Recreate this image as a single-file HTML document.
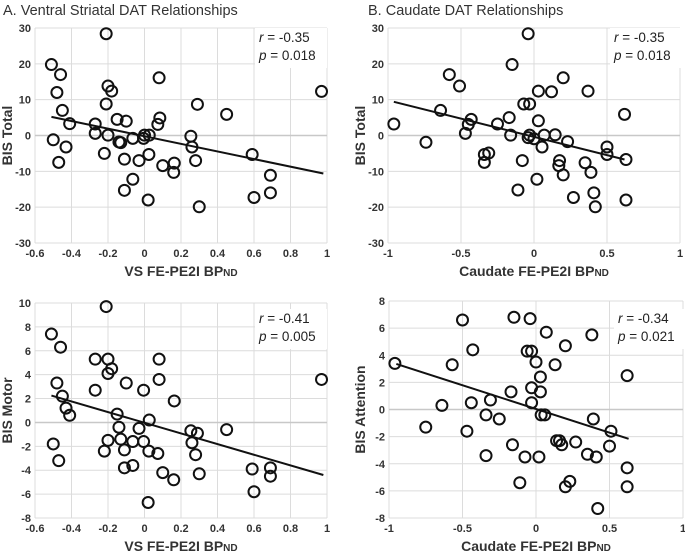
<!DOCTYPE html>
<html><head><meta charset="utf-8">
<style>
html,body{margin:0;padding:0;background:#fff;}
svg{display:block;font-family:"Liberation Sans",sans-serif;}
.tick{font-size:11px;font-weight:bold;fill:#333;}
.title{font-size:14.5px;fill:#333;}
.axt{font-size:14px;font-weight:bold;fill:#333;}
.ann{font-size:13.5px;fill:#222;}
</style></head>
<body>
<svg id="chart" width="685" height="551" viewBox="0 0 685 551">
<text class="title" x="3" y="15">A. Ventral Striatal DAT Relationships</text>
<text class="title" x="368" y="15">B. Caudate DAT Relationships</text>
</svg>
<script>
// Panel A: VS vs BIS Total
const vsX = [-0.51,-0.46,-0.48,-0.45,-0.41,-0.50,-0.43,-0.47,-0.21,-0.20,-0.18,-0.21,-0.27,-0.27,-0.20,-0.22,-0.15,-0.10,-0.14,-0.13,-0.11,-0.11,-0.064,-0.064,-0.03,-0.005,0,0.026,0.024,0.02,0.08,0.084,0.073,0.10,0.163,0.16,0.254,0.26,0.29,0.28,0.30,0.45,0.59,0.60,0.69,0.69,0.97];
const bisTotalA = [19.8,17,12,7,3.3,-1.2,-3.2,-7.5,28.4,13.8,12.4,8.8,3.2,0.6,0.1,-5,4.5,4,-1.8,-2,-6.6,-15.3,-12.2,-0.8,-7,-0.8,0.1,0.1,-5.3,-18,16.1,4.9,3.1,-8.4,-7.7,-10.3,-0.2,-3.2,8.7,-7,-19.9,5.9,-5.3,-17.3,-11.1,-16,12.3];
const lineA = [[-0.51,5.2],[0.98,-10.6]];
// Panel C: VS vs BIS Motor
const vsXC = [-0.51,-0.46,-0.48,-0.45,-0.43,-0.41,-0.50,-0.47,-0.21,-0.27,-0.20,-0.18,-0.20,-0.27,-0.10,-0.15,-0.14,-0.13,-0.20,-0.22,-0.11,-0.11,-0.064,-0.064,-0.03,-0.005,-0.005,0.026,0.024,0.02,0.08,0.08,0.073,0.10,0.163,0.16,0.254,0.26,0.29,0.28,0.30,0.45,0.59,0.60,0.69,0.69,0.97];
const bisMotor = [7.4,6.3,3.3,2.2,1.2,0.6,-1.8,-3.2,9.7,5.3,5.3,4.5,4.1,2.7,3.3,0.7,-0.4,-1.4,-1.5,-2.4,-2.3,-3.8,-3.6,-1.6,-0.5,2.7,-1.6,0.2,-2.4,-6.7,5.3,3.6,-2.6,-4.2,1.8,-4.8,-0.7,-1.7,-0.9,-2.7,-4.3,-0.6,-3.9,-5.8,-3.8,-4.5,3.6];
const lineC = [[-0.51,2.25],[0.98,-4.4]];
// Panel B: Caudate vs BIS Total
const cdX = [-0.96,-0.74,-0.64,-0.58,-0.51,-0.47,-0.45,-0.43,-0.34,-0.34,-0.31,-0.25,-0.17,-0.16,-0.15,-0.11,-0.08,-0.07,-0.03,-0.04,-0.04,-0.03,0,0.02,0.03,0.03,0.055,0.07,0.12,0.145,0.175,0.17,0.20,0.20,0.23,0.27,0.35,0.37,0.39,0.41,0.42,0.50,0.50,0.62,0.63,0.63];
const bisTotalB = [3.2,-1.9,7,17,13.8,0.6,3.1,4.5,-5.3,-7.5,-4.9,3.2,5,0.1,19.8,-15.2,-7,8.8,8.8,28.4,-0.6,0.1,-0.9,-12.2,12.4,4.1,-3.2,0.1,12.2,0.2,-7,-8.4,-11,16.1,-1.7,-17.3,-7.6,12.4,-10.3,-16,-19.9,-3.2,-5.3,5.9,-6.7,-18];
const lineB = [[-0.96,9.4],[0.62,-6.7]];
// Panel D: Caudate vs BIS Attention
const cdXD = [-0.96,-0.75,-0.64,-0.57,-0.50,-0.47,-0.44,-0.43,-0.34,-0.34,-0.31,-0.25,-0.17,-0.16,-0.15,-0.11,-0.075,-0.06,-0.03,-0.04,-0.03,-0.03,0,0.02,0.03,0.03,0.035,0.06,0.07,0.13,0.14,0.16,0.175,0.20,0.20,0.23,0.27,0.35,0.38,0.39,0.41,0.42,0.51,0.50,0.62,0.62,0.62];
const bisAttention = [3.4,-1.3,0.3,3.3,6.6,-1.6,0.5,4.4,-0.4,-3.4,0.7,-0.7,1.3,-2.6,6.8,-5.4,-3.5,4.3,4.3,6.7,0.5,1.6,3.5,-3.5,2.4,1.3,-0.4,-0.4,5.7,3.3,-2.3,-2.3,-2.6,4.7,-5.7,-5.3,-2.4,-3.3,5.5,-0.7,-3.5,-7.3,-1.6,-2.7,2.5,-4.3,-5.7];
const lineD = [[-0.95,3.36],[0.63,-2.16]];

const xTicksVS = ["-0.6","-0.4","-0.2","0","0.2","0.4","0.6","0.8","1"];
const xTicksCd = ["-1","-0.5","0","0.5","1"];
const yTicksTotal = ["30","20","10","0","-10","-20","-30"];
const yTicksMotor = ["10","8","6","4","2","0","-2","-4","-6","-8"];
const yTicksAtt = ["8","6","4","2","0","-2","-4","-6","-8"];

const NS = "http://www.w3.org/2000/svg";
const svg = document.getElementById('chart');
function mk(tag, attrs, parent){ const e=document.createElementNS(NS,tag); for(const k in attrs) e.setAttribute(k,attrs[k]); (parent||svg).appendChild(e); return e; }

function panel(p){
  const g = mk('g',{});
  
  
  const sx = v => p.x0 + (v - p.xmin)/(p.xmax-p.xmin)*(p.x1-p.x0);
  const sy = v => p.y0 + (p.ymax - v)/(p.ymax-p.ymin)*(p.y1-p.y0);
  p.xt.forEach(t=>{ const v=parseFloat(t); const l=mk('line',{x1:sx(v),x2:sx(v),y1:p.y0,y2:p.y1,stroke:'#dcdcdc','stroke-width':1},g);
     
    const tx=mk('text',{x:sx(v),y:p.y1+14,'text-anchor':'middle',class:'tick'},g); tx.textContent=t;
      });
  p.yt.forEach(t=>{ const v=parseFloat(t); const l=mk('line',{x1:p.x0,x2:p.x1,y1:sy(v),y2:sy(v),stroke:(v===0?'#c8c8c8':'#dcdcdc'),'stroke-width':(v===0?1.5:1)},g);
     
    const tx=mk('text',{x:p.x0-4,y:sy(v)+4,'text-anchor':'end',class:'tick'},g); tx.textContent=t;
      });
  const bx=mk('rect',{x:p.ax-4,y:p.ay-14,width:72,height:40,fill:'#fff'},g);
   
  const t1=mk('text',{x:p.ax,y:p.ay,class:'ann'},g); t1.innerHTML='<tspan font-style="italic">r</tspan> = '+p.r;
   
  const t2=mk('text',{x:p.ax,y:p.ay+18,class:'ann'},g); t2.innerHTML='<tspan font-style="italic">p</tspan> = '+p.p;
   
  p.xs.forEach((xv,i)=>{ const c=mk('circle',{cx:sx(xv),cy:sy(p.ys[i]),r:5.5,fill:'none',stroke:'#111','stroke-width':2},g);
      });
  const rl=mk('line',{x1:sx(p.line[0][0]),y1:sy(p.line[0][1]),x2:sx(p.line[1][0]),y2:sy(p.line[1][1]),stroke:'#111','stroke-width':2},g);
   
  const xt=mk('text',{x:(p.x0+p.x1)/2,y:p.y1+33,'text-anchor':'middle',class:'axt'},g);
  xt.innerHTML=p.xlab+' BP<tspan font-size="10">ND</tspan>';
   
  const cy=(p.y0+p.y1)/2, cx=p.ylx;
  const yt=mk('text',{x:cx,y:cy,'text-anchor':'middle',class:'axt',transform:'rotate(-90 '+cx+' '+cy+')','font-size':'13'},g);
  yt.textContent=p.ylab;
   
}

panel({name:'panel-a-vs-bis-total',x0:35,x1:327,xmin:-0.6,xmax:1,y0:28,y1:243,ymin:-30,ymax:30,xs:vsX,ys:bisTotalA,line:lineA,xt:xTicksVS,yt:yTicksTotal,r:'-0.35',p:'0.018',ax:259,ay:42,xlab:'VS FE-PE2I',ylab:'BIS Total',ylx:12});
panel({name:'panel-b-caudate-bis-total',x0:388,x1:680,xmin:-1,xmax:1,y0:28,y1:243,ymin:-30,ymax:30,xs:cdX,ys:bisTotalB,line:lineB,xt:xTicksCd,yt:yTicksTotal,r:'-0.35',p:'0.018',ax:614,ay:42,xlab:'Caudate FE-PE2I',ylab:'BIS Total',ylx:365});
panel({name:'panel-c-vs-bis-motor',x0:35,x1:327,xmin:-0.6,xmax:1,y0:303,y1:518,ymin:-8,ymax:10,xs:vsXC,ys:bisMotor,line:lineC,xt:xTicksVS,yt:yTicksMotor,r:'-0.41',p:'0.005',ax:259,ay:323,xlab:'VS FE-PE2I',ylab:'BIS Motor',ylx:12});
panel({name:'panel-d-caudate-bis-attention',x0:389,x1:683,xmin:-1,xmax:1,y0:301,y1:518,ymin:-8,ymax:8,xs:cdXD,ys:bisAttention,line:lineD,xt:xTicksCd,yt:yTicksAtt,r:'-0.34',p:'0.021',ax:618,ay:323,xlab:'Caudate FE-PE2I',ylab:'BIS Attention',ylx:365});
</script>
</body></html>
